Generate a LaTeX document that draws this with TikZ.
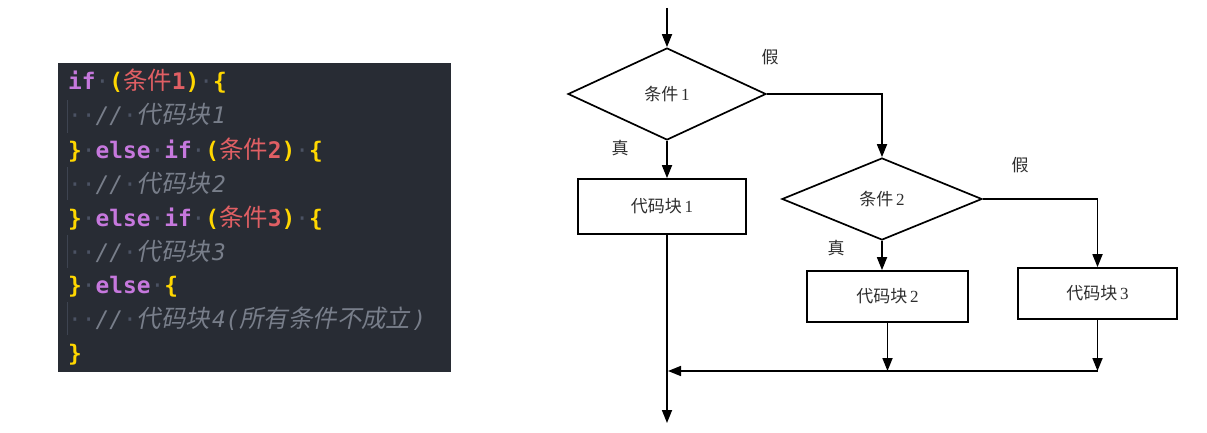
\documentclass[tikz,border=0pt]{standalone}
\usepackage{fontspec}
\setmonofont{DejaVu Sans Mono}
\newfontfamily\cjk[Scale=1.07]{Noto Sans CJK SC}
\newfontfamily\cjkit[Scale=1.07,FakeSlant=0.2]{Noto Sans CJK SC}
\newfontfamily\cjkfl{Noto Sans CJK SC}
\newfontfamily\numfl{Liberation Serif}
\usepackage{tikz}
\usetikzlibrary{arrows.meta,shapes.geometric}
\definecolor{codebg}{RGB}{40,44,52}
\definecolor{kwcol}{RGB}{198,120,221}
\definecolor{brcol}{RGB}{255,215,0}
\definecolor{condcol}{RGB}{224,95,100}
\definecolor{cmcol}{RGB}{120,126,138}
\definecolor{wscol}{RGB}{75,82,99}
\definecolor{guidecol}{RGB}{62,68,81}
\definecolor{flowtext}{RGB}{45,45,45}
\newcommand\kw[1]{{\color{kwcol}#1}}
\newcommand\br[1]{{\color{brcol}#1}}
\newcommand\cnd[1]{{\color{condcol}#1}}
\newcommand\cm[1]{{\color{cmcol}\mdseries\itshape #1}}
\newcommand\ws{{\color{wscol}\mdseries\upshape ·}}
\newcommand\cz[1]{{\mdseries\cjk #1}}
\newcommand\ci[1]{{\cjkit #1}\kern2pt}
\newcommand\fl[2]{{\cjkfl #1}\,{\numfl #2}}
\tikzset{>/.tip={Triangle[length=13pt,width=10pt]},
  codeline/.style={anchor=base west,inner sep=0pt,font=\ttfamily\bfseries\fontsize{22.8}{34}\selectfont},
  guide/.style={guidecol,line width=1pt},
  flow/.style={line width=1.7pt},
  decision/.style={diamond,draw,line width=1.7pt,inner sep=0pt,text=flowtext,font=\fontsize{17}{18}\selectfont},
  blockbox/.style={rectangle,draw,line width=1.7pt,inner sep=0pt,text=flowtext,font=\fontsize{17}{18}\selectfont},
  lbl/.style={inner sep=0pt,text=flowtext,font=\cjkfl\fontsize{17}{18}\selectfont}}

\begin{document}
\begin{tikzpicture}[x=1pt,y=-1pt]
\useasboundingbox (0,0) rectangle (1207,433);
% code panel
\fill[codebg] (58,63) rectangle (451,372);
\foreach \y in {100,167,235,302}
{
  \draw[guide] (67,\y) -- (67,\y+33);
}
\node[codeline] (code1) at (68,90)  {\kw{if}\ws\br{(}\cnd{\cz{条件}1}\br{)}\ws\br{\{}};
\node[codeline] (code2) at (68,124) {\ws\ws\cm{//\ws\ci{代码块}1}};
\node[codeline] (code3) at (68,158) {\br{\}}\ws\kw{else}\ws\kw{if}\ws\br{(}\cnd{\cz{条件}2}\br{)}\ws\br{\{}};
\node[codeline] (code4) at (68,192) {\ws\ws\cm{//\ws\ci{代码块}2}};
\node[codeline] (code5) at (68,226) {\br{\}}\ws\kw{else}\ws\kw{if}\ws\br{(}\cnd{\cz{条件}3}\br{)}\ws\br{\{}};
\node[codeline] (code6) at (68,260) {\ws\ws\cm{//\ws\ci{代码块}3}};
\node[codeline] (code7) at (68,293) {\br{\}}\ws\kw{else}\ws\br{\{}};
\node[codeline] (code8) at (68,327) {\ws\ws\cm{//\ws\ci{代码块}4(\ci{所有条件不成立})}};
\node[codeline] (code9) at (68,361) {\br{\}}};
% flow chart
\coordinate (start)  at (667,8);
\coordinate (finish) at (667,423);
\coordinate (join)   at (668,371);
\node[decision,minimum width=198pt,minimum height=92pt] (d1) at (667,94)  {\fl{条件}{1}};
\node[decision,minimum width=200pt,minimum height=82pt] (d2) at (882,199) {\fl{条件}{2}};
\node[blockbox,minimum width=168pt,minimum height=55pt] (b1) at (662,206.5)  {\fl{代码块}{1}};
\node[blockbox,minimum width=161pt,minimum height=51pt] (b2) at (887.5,296.5) {\fl{代码块}{2}};
\node[blockbox,minimum width=159pt,minimum height=51pt] (b3) at (1097.5,293.5) {\fl{代码块}{3}};
\node[lbl] (f1) at (770,57)  {假};
\node[lbl] (t1) at (620,148) {真};
\node[lbl] (f2) at (1020,165) {假};
\node[lbl] (t2) at (836,248) {真};
\draw[flow,->] (start) -- (d1.north);
\draw[flow,->] (d1.south) -- (d1.south |- b1.north);
\draw[flow,->] (d1.east) -| (d2.north);
\draw[flow,->] (d2.south) -- (d2.south |- b2.north);
\draw[flow,->] (d2.east) -| (b3.north);
\draw[flow,->] (b1.south -| start) -- (finish);
\foreach \b in {b2,b3}
{
  \draw[flow,->] (\b.south) -- (\b.south |- join);
}
\draw[flow,->] (b3.south |- join) -- (join);
\end{tikzpicture}
\end{document}
